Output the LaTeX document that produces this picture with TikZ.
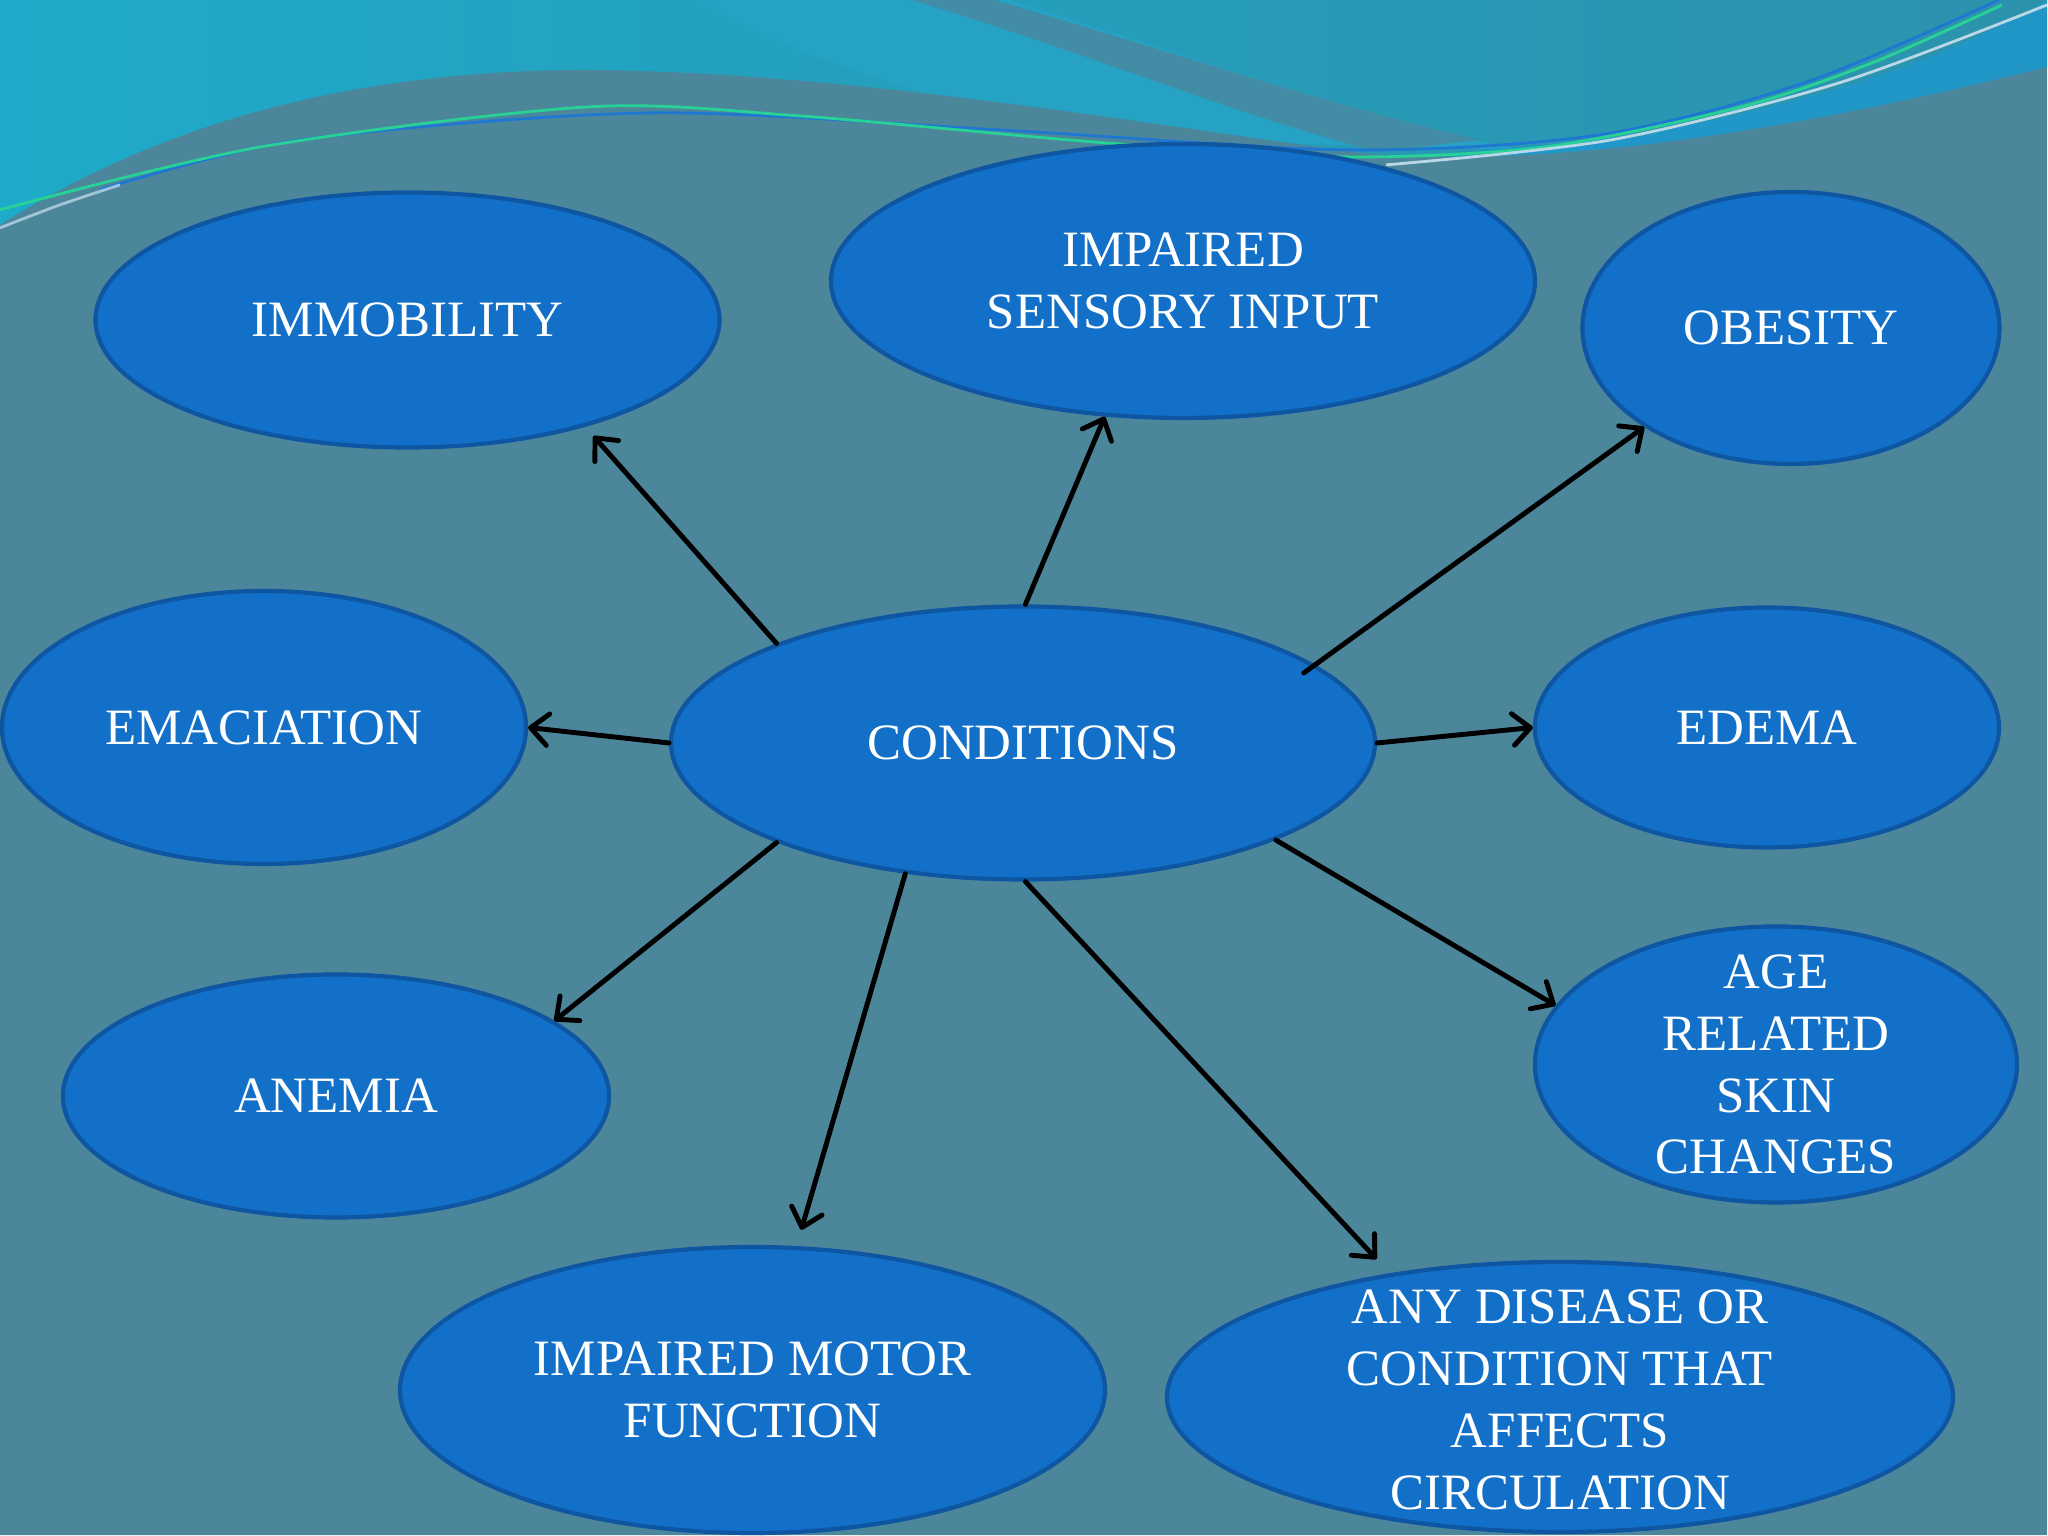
\documentclass[tikz,border=0pt]{standalone}
\usepackage{fontspec}
\setmainfont{Liberation Serif}
\usepackage{xcolor}
\definecolor{nodefill}{RGB}{18,112,200}
\definecolor{nodeline}{RGB}{14,86,162}
\definecolor{bggray}{RGB}{76,134,155}
\definecolor{waveteal}{RGB}{40,140,178}
\definecolor{waveteal2}{RGB}{44,146,172}
\definecolor{wavecyan}{RGB}{30,170,202}
\definecolor{wavelight}{RGB}{38,162,196}
\definecolor{waveblue}{RGB}{30,152,206}
\definecolor{linegreen}{RGB}{40,210,150}
\definecolor{lineblue}{RGB}{30,120,210}
\definecolor{linewhite}{RGB}{185,215,230}
\usetikzlibrary{arrows.meta,positioning,shapes.geometric}

\begin{document}
\begin{tikzpicture}[
  blob/.style={ellipse, draw=nodeline, line width=1.2pt, fill=nodefill, inner sep=0pt},
  txt/.style={text=white, align=center, inner sep=0pt, font=\fontsize{14.5}{17.6}\selectfont},
  conn/.style={-{Straight Barb[length=5pt,width=9pt,round]}, line width=1.4pt, line cap=round, black}
]
\useasboundingbox (0,0) rectangle (20.48,15.36);

% background with the waves on top
\begin{scope}[x=0.01cm, y=-0.01cm, yshift=15.36cm]
  \shade[left color=wavecyan, middle color=waveteal, right color=waveteal2] (0,0) rectangle (2048,320);
  \fill[wavelight] (700,0) -- (1010,0) .. controls (1200,60) and (1380,120) .. (1520,150) -- (1150,140) .. controls (950,110) and (800,60) .. (700,0) -- cycle;
  \fill[bggray, opacity=0.75] (912,0) -- (995,0) .. controls (1150,45) and (1330,105) .. (1480,140) -- (1380,152) .. controls (1250,120) and (1080,50) .. (912,0) -- cycle;
  \fill[waveblue, opacity=0.8] (1480,150) .. controls (1750,135) and (1950,60) .. (2048,0) -- (2048,80) .. controls (1900,120) and (1750,160) .. (1480,160) -- cycle;
  \fill[bggray] (0,225) .. controls (120,150) and (300,70) .. (588,70) .. controls (850,72) and (1150,125) .. (1361,153) .. controls (1550,170) and (1800,130) .. (2048,67) -- (2048,1536) -- (0,1536) -- cycle;
  \draw[lineblue, line width=0.8pt] plot[smooth] coordinates {(100,190) (300,140) (650,113) (1000,130) (1350,150) (1600,135) (1808,82) (2000,0)};
  \draw[linegreen, line width=0.8pt] plot[smooth] coordinates {(0,210) (261,147) (588,107) (800,116) (1106,143) (1346,157) (1546,147) (1742,107) (1873,63) (2003,5)};
  \draw[linewhite, line width=0.8pt] plot[smooth] coordinates {(1387,165) (1612,140) (1840,83) (2048,5)};
  \draw[linewhite, line width=0.8pt, opacity=0.8] plot[smooth] coordinates {(0,228) (60,205) (120,185)};
\end{scope}

% ellipses
\node[blob, minimum width=7.04cm, minimum height=2.73cm] (cond) at (10.23,7.93) {};
\node[blob, minimum width=6.24cm, minimum height=2.55cm] (immob) at (4.075,12.16) {};
\node[blob, minimum width=7.04cm, minimum height=2.74cm] (sensory) at (11.83,12.55) {};
\node[blob, minimum width=4.17cm, minimum height=2.72cm] (obesity) at (17.91,12.08) {};
\node[blob, minimum width=5.24cm, minimum height=2.73cm] (emac) at (2.64,8.085) {};
\node[blob, minimum width=4.64cm, minimum height=2.40cm] (edema) at (17.67,8.085) {};
\node[blob, minimum width=5.46cm, minimum height=2.43cm] (anemia) at (3.36,4.40) {};
\node[blob, minimum width=4.82cm, minimum height=2.76cm] (age) at (17.76,4.715) {};
\node[blob, minimum width=7.05cm, minimum height=2.86cm] (motor) at (7.525,1.46) {};
\node[blob, minimum width=7.86cm, minimum height=2.70cm] (anydis) at (15.60,1.39) {};

% texts
\node[txt] (cond-t) at (cond) {CONDITIONS};
\node[txt] (immob-t) at (immob) {IMMOBILITY};
\node[txt] (sensory-t) at (sensory) {IMPAIRED\\SENSORY INPUT};
\node[txt] (obesity-t) at (obesity) {OBESITY};
\node[txt] (emac-t) at (emac) {EMACIATION};
\node[txt] (edema-t) at (edema) {EDEMA};
\node[txt] (anemia-t) at (anemia) {ANEMIA};
\node[txt] (age-t) at (age) {AGE\\RELATED\\SKIN\\CHANGES};
\node[txt] (motor-t) at (motor) {IMPAIRED MOTOR\\FUNCTION};
\node[txt] (anydis-t) at ([yshift=-0.03cm]anydis) {ANY DISEASE OR\\CONDITION THAT\\AFFECTS\\CIRCULATION};

% arrows
\draw[conn, shorten >=3.5pt] (cond.158.6) -- (immob.-31.6);
\draw[conn] (cond.89) -- (sensory.-120.2);
\draw[conn, shorten <=-4pt] (cond.15) -- (obesity.-146.8);
\draw[conn] (cond.west) -- (emac.east);
\draw[conn] (cond.east) -- (edema.west);
\draw[conn] (cond.-158.1) -- (anemia.19.2);
\draw[conn, shorten >=4.8pt] (cond.-132.5) -- (motor.73.6);
\draw[conn, shorten >=5.5pt] (cond.-89) -- (anydis.144.1);
\draw[conn] (cond.-21.6) -- (age.165.3);
\end{tikzpicture}
\end{document}
